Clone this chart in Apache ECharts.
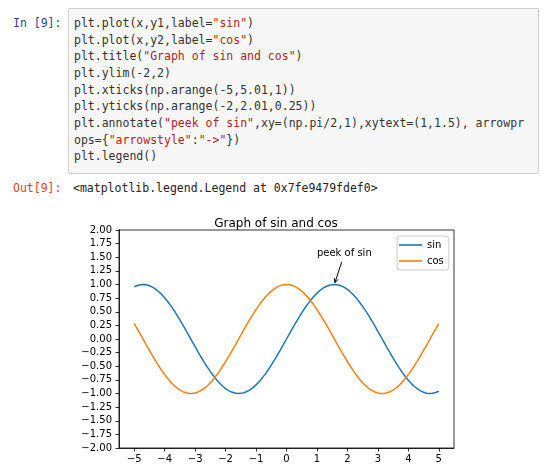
<!DOCTYPE html>
<html>
<head>
<meta charset="utf-8">
<script src="https://cdn.jsdelivr.net/npm/echarts@6/dist/echarts.min.js"></script>
<style>
  html, body { margin:0; padding:0; background:#fff; }
  #page { position:relative; width:552px; height:470px; overflow:hidden; }
  .mono { font-family:"DejaVu Sans Mono","Liberation Mono",monospace; font-size:11.5px; white-space:pre; position:absolute; line-height:16.67px; }
  .prompt-in { color:#303F9F; left:13px; top:15px; }
  .prompt-out { color:#D84315; left:13px; top:180px; }
  #codebox { position:absolute; left:68px; top:8px; width:469px; height:164px; background:#f7f7f7; border:1px solid #cfcfcf; border-radius:2px; }
  .code { color:#333; left:74px; top:15px; }
  .str { color:#BA2121; }
  .out { color:#222; left:73px; top:180px; }
  #chart { position:absolute; left:0; top:0; width:552px; height:470px; }
</style>
</head>
<body>
<div id="page">
  <div class="mono prompt-in">In [9]:</div>
  <div id="codebox"></div>
  <div class="mono code">plt.plot(x,y1,label=<span class="str">"sin"</span>)
plt.plot(x,y2,label=<span class="str">"cos"</span>)
plt.title(<span class="str">"Graph of sin and cos"</span>)
plt.ylim(-2,2)
plt.xticks(np.arange(-5,5.01,1))
plt.yticks(np.arange(-2,2.01,0.25))
plt.annotate(<span class="str">"peek of sin"</span>,xy=(np.pi/2,1),xytext=(1,1.5), arrowpr
ops={<span class="str">"arrowstyle"</span>:<span class="str">"->"</span>})
plt.legend()</div>
  <div class="mono prompt-out">Out[9]:</div>
  <div class="mono out">&lt;matplotlib.legend.Legend at 0x7fe9479fdef0&gt;</div>
  <div id="chart"></div>
</div>
<script>
// ---- data ----
var xs = [-5.0,-4.9,-4.8,-4.7,-4.6,-4.5,-4.4,-4.3,-4.2,-4.1,-4.0,-3.9,-3.8,-3.7,-3.6,-3.5,-3.4,-3.3,-3.2,-3.1,
          -3.0,-2.9,-2.8,-2.7,-2.6,-2.5,-2.4,-2.3,-2.2,-2.1,-2.0,-1.9,-1.8,-1.7,-1.6,-1.5,-1.4,-1.3,-1.2,-1.1,
          -1.0,-0.9,-0.8,-0.7,-0.6,-0.5,-0.4,-0.3,-0.2,-0.1,0,
          0.1,0.2,0.3,0.4,0.5,0.6,0.7,0.8,0.9,1.0,1.1,1.2,1.3,1.4,1.5,1.6,1.7,1.8,1.9,2.0,
          2.1,2.2,2.3,2.4,2.5,2.6,2.7,2.8,2.9,3.0,3.1,3.2,3.3,3.4,3.5,3.6,3.7,3.8,3.9,4.0,
          4.1,4.2,4.3,4.4,4.5,4.6,4.7,4.8,4.9,5.0];
var sinVals = [0.9589,0.9825,0.9962,0.9999,0.9937,0.9775,0.9516,0.9162,0.8716,0.8183,
               0.7568,0.6878,0.6119,0.5298,0.4425,0.3508,0.2555,0.1577,0.0584,-0.0416,
               -0.1411,-0.2392,-0.3350,-0.4274,-0.5155,-0.5985,-0.6755,-0.7457,-0.8085,-0.8632,
               -0.9093,-0.9463,-0.9738,-0.9917,-0.9996,-0.9975,-0.9854,-0.9636,-0.9320,-0.8912,
               -0.8415,-0.7833,-0.7174,-0.6442,-0.5646,-0.4794,-0.3894,-0.2955,-0.1987,-0.0998,0,
               0.0998,0.1987,0.2955,0.3894,0.4794,0.5646,0.6442,0.7174,0.7833,0.8415,
               0.8912,0.9320,0.9636,0.9854,0.9975,0.9996,0.9917,0.9738,0.9463,0.9093,
               0.8632,0.8085,0.7457,0.6755,0.5985,0.5155,0.4274,0.3350,0.2392,0.1411,
               0.0416,-0.0584,-0.1577,-0.2555,-0.3508,-0.4425,-0.5298,-0.6119,-0.6878,-0.7568,
               -0.8183,-0.8716,-0.9162,-0.9516,-0.9775,-0.9937,-0.9999,-0.9962,-0.9825,-0.9589];
var cosVals = [0.2837,0.1865,0.0875,-0.0124,-0.1122,-0.2108,-0.3073,-0.4008,-0.4903,-0.5748,
               -0.6536,-0.7259,-0.7910,-0.8481,-0.8968,-0.9365,-0.9668,-0.9875,-0.9983,-0.9991,
               -0.9900,-0.9710,-0.9422,-0.9041,-0.8569,-0.8011,-0.7374,-0.6663,-0.5885,-0.5048,
               -0.4161,-0.3233,-0.2272,-0.1288,-0.0292,0.0707,0.1700,0.2675,0.3624,0.4536,
               0.5403,0.6216,0.6967,0.7648,0.8253,0.8776,0.9211,0.9553,0.9801,0.9950,1,
               0.9950,0.9801,0.9553,0.9211,0.8776,0.8253,0.7648,0.6967,0.6216,0.5403,
               0.4536,0.3624,0.2675,0.1700,0.0707,-0.0292,-0.1288,-0.2272,-0.3233,-0.4161,
               -0.5048,-0.5885,-0.6663,-0.7374,-0.8011,-0.8569,-0.9041,-0.9422,-0.9710,-0.9900,
               -0.9991,-0.9983,-0.9875,-0.9668,-0.9365,-0.8968,-0.8481,-0.7910,-0.7259,-0.6536,
               -0.5748,-0.4903,-0.4008,-0.3073,-0.2108,-0.1122,-0.0124,0.0875,0.1865,0.2837];
var xTicks = [-5,-4,-3,-2,-1,0,1,2,3,4,5];
var seriesNames = ['sin','cos'];
var titleText = 'Graph of sin and cos';
var annotText = 'peek of sin';
var annotXY = [Math.PI/2, 1];
var annotTextXY = [1, 1.5];

function fmtNum(v, d) {
  var s = Math.abs(v).toFixed(d);
  return (v < -1e-9 ? '\u2212' : '') + s;
}

var chart = echarts.init(document.getElementById('chart'), null, {renderer:'canvas'});
var font = '"DejaVu Sans", sans-serif';
var option = {
  backgroundColor: 'transparent',
  animation: false,
  title: {
    text: titleText, left: 'center', top: 213,
    textStyle: { fontFamily: font, fontSize: 12, fontWeight: 'normal', color: '#000' }
  },
  grid: { left: 119, top: 230, right: 98, bottom: 22, show: true, borderColor: '#000', borderWidth: 0.8, backgroundColor: 'transparent' },
  legend: {
    orient: 'vertical', left: 397, top: 236,
    data: seriesNames,
    icon: 'rect', itemWidth: 23, itemHeight: 1.6, itemGap: 4,
    padding: [3, 5, 3, 2],
    borderColor: '#cccccc', borderWidth: 1, borderRadius: 3, backgroundColor: 'rgba(255,255,255,0.8)',
    textStyle: { fontFamily: font, fontSize: 10, color: '#000', lineHeight: 12 }
  },
  xAxis: {
    type: 'value', min: -5.5, max: 5.5,
    axisLine: { show: true, onZero: false, lineStyle: { color: '#000', width: 0.8 } },
    axisTick: { show: true, inside: false, length: 3.5, lineStyle: { color: '#000', width: 0.8 }, customValues: xTicks },
    axisLabel: { margin: 6, fontFamily: font, fontSize: 10, color: '#000', customValues: xTicks, formatter: function (v) { return fmtNum(v, 0); } },
    splitLine: { show: false }
  },
  yAxis: {
    type: 'value', min: -2, max: 2, interval: 0.25,
    axisLine: { show: true, onZero: false, lineStyle: { color: '#000', width: 0.8 } },
    axisTick: { show: true, inside: false, length: 3.5, lineStyle: { color: '#000', width: 0.8 } },
    axisLabel: { margin: 7, fontFamily: font, fontSize: 10, color: '#000', formatter: function (v) { return fmtNum(v, 2); } },
    splitLine: { show: false }
  },
  series: [
    { name: seriesNames[0], type: 'line', data: xs.map(function (x, i) { return [x, sinVals[i]]; }),
      smooth: false, showSymbol: false, symbol: 'none', color: '#1f77b4', lineStyle: { width: 1.5, color: '#1f77b4' } },
    { name: seriesNames[1], type: 'line', data: xs.map(function (x, i) { return [x, cosVals[i]]; }),
      smooth: false, showSymbol: false, symbol: 'none', color: '#ff7f0e', lineStyle: { width: 1.5, color: '#ff7f0e' } }
  ]
};
chart.setOption(option);

// annotation placed through the chart's own scales
var tp = chart.convertToPixel({ gridIndex: 0 }, annotTextXY);
var pp = chart.convertToPixel({ gridIndex: 0 }, annotXY);
var tw = echarts.format.getTextRect ? echarts.format.getTextRect(annotText, '10px ' + font).width : 53;
var tcx = tp[0] + tw / 2, tcy = tp[1] - 3.5;
var dx = pp[0] - tcx, dy = pp[1] - tcy, len = Math.sqrt(dx * dx + dy * dy);
var ux = dx / len, uy = dy / len;
var startY = tp[1] + 4.5;
var tStart = (startY - tcy) / uy;
var sx = tcx + ux * tStart, sy = tcy + uy * tStart;
var ex = pp[0] - ux * 2, ey = pp[1] - uy * 2;
var hl = 4, hw = 2;
var bx = ex - ux * hl, by = ey - uy * hl;
chart.setOption({
  graphic: [
    { type: 'text', x: tp[0], y: tcy, style: { text: annotText, font: '10px ' + font, fill: '#000', textVerticalAlign: 'middle', verticalAlign: 'middle' } },
    { type: 'line', shape: { x1: sx, y1: sy, x2: ex, y2: ey }, style: { stroke: '#000', lineWidth: 1 } },
    { type: 'polyline', shape: { points: [[bx - uy * hw, by + ux * hw], [ex, ey], [bx + uy * hw, by - ux * hw]] }, style: { stroke: '#000', lineWidth: 1, fill: null } }
  ]
});
</script>
</body>
</html>
